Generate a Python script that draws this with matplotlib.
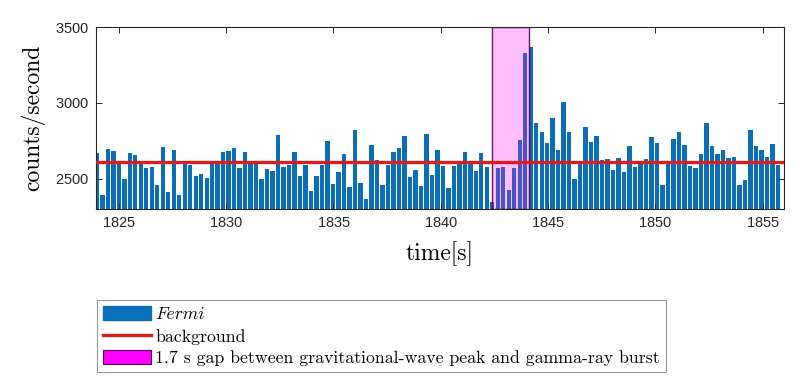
import numpy as np
import matplotlib
matplotlib.use('Agg')
import matplotlib.pyplot as plt
from matplotlib.patches import Patch
from matplotlib.lines import Line2D

# Fermi GBM counts, 0.256 s bins
t_start = 1823.97
bin_width = 0.256
counts = [
    2670, 2394, 2696, 2681, 2615, 2500, 2670, 2659, 2615, 2571, 2575, 2456, 2710, 2412, 2687, 2394, 2615, 2593, 2515, 2531, 2504,
    2604, 2604, 2677, 2681, 2699, 2571, 2677, 2599, 2599, 2498, 2566, 2548, 2791, 2577, 2593, 2674, 2515, 2588, 2416, 2515, 2588,
    2751, 2467, 2542, 2663, 2443, 2824, 2471, 2367, 2723, 2626, 2460, 2588, 2679, 2705, 2780, 2509, 2560, 2454, 2796, 2526, 2692,
    2586, 2438, 2586, 2608, 2676, 2604, 2553, 2670, 2577, 2343, 2568, 2575, 2427, 2570, 2758, 3332, 3369, 2864, 2809, 2732, 2897,
    2692, 3005, 2807, 2498, 2604, 2840, 2743, 2780, 2626, 2632, 2555, 2639, 2546, 2718, 2575, 2608, 2630, 2774, 2736, 2456,
    2604, 2762, 2809, 2723, 2586, 2568, 2663, 2864, 2714, 2663, 2690, 2637, 2641, 2460, 2489, 2818, 2714, 2688, 2646, 2727, 2593,
]
background = 2612
gap_start, gap_end = 1842.40, 1844.10

x_ticks = [1825, 1830, 1835, 1840, 1845, 1850, 1855]
y_ticks = [2500, 3000, 3500]

plt.rcParams['mathtext.fontset'] = 'cm'
plt.rcParams['axes.formatter.use_mathtext'] = True

times = t_start + bin_width * np.arange(len(counts))

fig = plt.figure(figsize=(8, 3.82), dpi=100)
ax = fig.add_axes([0.12, 0.453, 0.86, 0.476])

ax.bar(times, counts, width=0.8 * bin_width, color='#0a6fb8', zorder=1)
ax.axvspan(gap_start, gap_end, facecolor=(1, 0, 1, 0.25),
           edgecolor=(0.35, 0, 0.35, 0.9), lw=1, zorder=2)
ax.axhline(background, color='#d81e1e', lw=2.4, zorder=3)

ax.set_xlim(1823.93, 1856.0)
ax.set_ylim(2300, 3500)
ax.set_xticks(x_ticks)
ax.set_yticks(y_ticks)
ax.tick_params(direction='in', top=True, right=True, length=4, width=0.7,
               labelsize=10.5, color='#262626', labelcolor='#262626', pad=5)
for lbl in ax.get_xticklabels() + ax.get_yticklabels():
    lbl.set_fontfamily('Liberation Sans')
for s in ax.spines.values():
    s.set_linewidth(0.8)
    s.set_color('#262626')

ax.set_xlabel('time[s]', fontfamily='cmr10', fontsize=17, va='top')
ax.xaxis.set_label_coords(0.5, -0.176)
ax.set_ylabel('counts/second', fontfamily='cmr10', fontsize=17)
ax.yaxis.set_label_coords(-0.074, 0.5)

handles = [
    Patch(facecolor='#0a6fb8', edgecolor='#0a6fb8'),
    Line2D([], [], color='#d81e1e', lw=2.4),
    Patch(facecolor='magenta', edgecolor='#5a005a', lw=0.8),
]
labels = ['Fermi', 'background',
          '1.7 s gap between gravitational-wave peak and gamma-ray burst']
leg = fig.legend(handles, labels, loc='upper left', bbox_to_anchor=(0.121, 0.215),
                 borderaxespad=0, fancybox=False, edgecolor='#7f7f7f',
                 prop={'family': 'cmr10', 'size': 12.8},
                 handlelength=2.7, handleheight=0.85, handletextpad=0.25,
                 labelspacing=0.28, borderpad=0.35)
leg.get_frame().set_linewidth(0.8)
leg.get_texts()[0].set_fontfamily('cmmi10')

fig.savefig('out.png', dpi=100)
